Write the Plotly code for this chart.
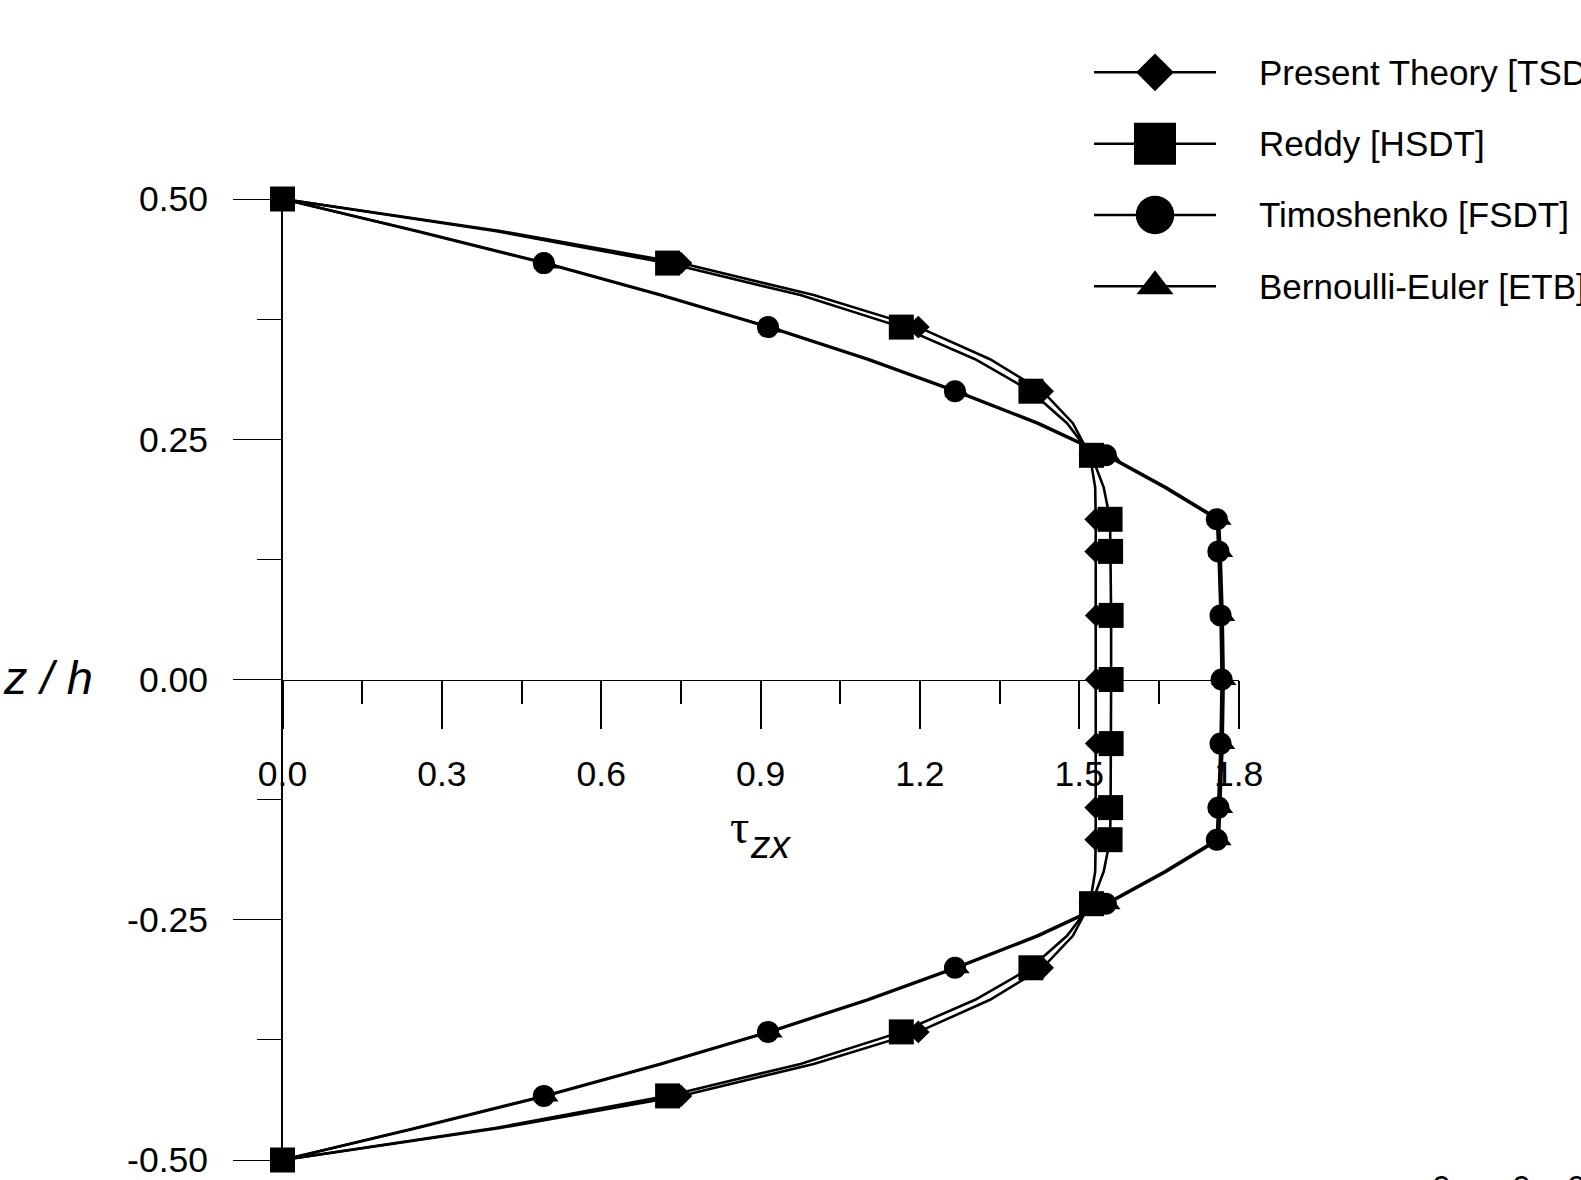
import plotly.graph_objects as go

# ---------------- data ----------------
z_levels = [0.5, 0.4667, 0.4333, 0.4, 0.3667, 0.3333, 0.3, 0.2667, 0.2333, 0.2,
            0.1667, 0.1333, 0.0667, 0.0, -0.0667, -0.1333, -0.1667, -0.2, -0.2333,
            -0.2667, -0.3, -0.3333, -0.3667, -0.4, -0.4333, -0.4667, -0.5]
marker_on = [1, 0, 1, 0, 1, 0, 1, 0, 1, 0, 1, 1, 1, 1, 1, 1, 1, 0, 1, 0, 1, 0, 1, 0, 1, 0, 1]

present_tsdt = [0.0, 0.410, 0.750, 1.000, 1.197, 1.332, 1.431, 1.488, 1.520, 1.530,
                1.531, 1.531, 1.532, 1.532, 1.532, 1.531, 1.531, 1.530, 1.520,
                1.488, 1.431, 1.332, 1.197, 1.000, 0.750, 0.410, 0.0]
reddy_hsdt = [0.0, 0.400, 0.725, 0.975, 1.165, 1.304, 1.409, 1.477, 1.523, 1.546,
              1.558, 1.559, 1.560, 1.560, 1.560, 1.559, 1.558, 1.546, 1.523,
              1.477, 1.409, 1.304, 1.165, 0.975, 0.725, 0.400, 0.0]
timoshenko_fsdt = [0.0, 0.250, 0.492, 0.710, 0.914, 1.100, 1.266, 1.420, 1.550, 1.660,
                   1.759, 1.762, 1.766, 1.768, 1.766, 1.762, 1.759, 1.660, 1.550,
                   1.420, 1.266, 1.100, 0.914, 0.710, 0.492, 0.250, 0.0]
bernoulli_etb = [0.0, 0.254, 0.496, 0.714, 0.918, 1.104, 1.270, 1.424, 1.554, 1.664,
                 1.763, 1.766, 1.770, 1.772, 1.770, 1.766, 1.763, 1.664, 1.554,
                 1.424, 1.270, 1.104, 0.918, 0.714, 0.496, 0.254, 0.0]

legend_labels = ["Present Theory [TSDT]", "Reddy [HSDT]", "Timoshenko [FSDT]",
                 "Bernoulli-Euler [ETB]"]
x_tick_vals = [0.0, 0.3, 0.6, 0.9, 1.2, 1.5, 1.8]
x_tick_text = ["0.0", "0.3", "0.6", "0.9", "1.2", "1.5", "1.8"]
y_tick_vals = [-0.5, -0.25, 0.0, 0.25, 0.5]
y_tick_text = ["-0.50", "-0.25", "0.00", "0.25", "0.50"]
x_title_symbol = "τ"
x_title_sub = "zx"
y_title = "z / h"

# ---------------- layout helpers ----------------
W, H = 1581, 1180
FONT = "Liberation Sans, Arial, sans-serif"


def fx(p):
    return p / W


def fy(p):
    return 1 - p / H


# (values, symbol, plot marker size, legend marker size, legend row)
series = [
    (bernoulli_etb, "triangle-up", 22, 32, 3),
    (timoshenko_fsdt, "circle", 22, 38.5, 2),
    (present_tsdt, "diamond", 17.5, 29, 0),
    (reddy_hsdt, "square", 25, 42, 1),
]

fig = go.Figure()

for vals, sym, ms, lms, row in series:
    fig.add_trace(go.Scatter(
        x=vals, y=z_levels, mode="lines+markers",
        line=dict(color="black", width=2.6),
        marker=dict(symbol=sym, color="black", opacity=1,
                    size=[ms if m else 0 for m in marker_on],
                    line=dict(width=0)),
        cliponaxis=False, showlegend=False, hoverinfo="skip",
        name=legend_labels[row],
    ))

# custom legend samples (own small invisible axes)
for vals, sym, ms, lms, row in series:
    fig.add_trace(go.Scatter(
        x=[0, 0.5, 1], y=[row, row, row], mode="lines+markers",
        xaxis="x2", yaxis="y2",
        line=dict(color="black", width=2.5),
        marker=dict(symbol=sym, color="black", opacity=1, size=[0, lms, 0],
                    line=dict(width=0)),
        cliponaxis=False, showlegend=False, hoverinfo="skip",
    ))

annotations = []
for i, lab in enumerate(legend_labels):
    annotations.append(dict(x=fx(1257), y=i, xref="paper", yref="y2", text=lab,
                            xanchor="left", yanchor="middle", showarrow=False,
                            font=dict(family=FONT, size=35, color="black")))

annotations.append(dict(x=fx(48), y=fy(677), xref="paper", yref="paper",
                        text="<i>" + y_title + "</i>", xanchor="center", yanchor="middle",
                        showarrow=False, font=dict(family=FONT, size=47, color="black")))
annotations.append(dict(x=fx(739), y=fy(826), xref="paper", yref="paper",
                        text=x_title_symbol, xanchor="center", yanchor="middle",
                        showarrow=False,
                        font=dict(family="Liberation Serif, serif", size=48, color="black")))
annotations.append(dict(x=fx(771), y=fy(844), xref="paper", yref="paper",
                        text="<i>" + x_title_sub + "</i>", xanchor="center", yanchor="middle",
                        showarrow=False, font=dict(family=FONT, size=39, color="black")))
for xp in [1441, 1521, 1576]:
    annotations.append(dict(x=fx(xp), y=fy(1166), xref="paper", yref="paper", text="0",
                            xanchor="center", yanchor="top", showarrow=False,
                            font=dict(family=FONT, size=34, color="black")))

fig.update_layout(
    width=W, height=H, autosize=False,
    margin=dict(l=0, r=0, t=0, b=0, pad=0, autoexpand=False),
    paper_bgcolor="white", plot_bgcolor="rgba(0,0,0,0)",
    showlegend=False,
    annotations=annotations,
    xaxis=dict(
        domain=[fx(282.5), fx(1238.6)], range=[0, 1.8],
        anchor="free", position=fy(679.5), automargin=False,
        showline=True, linecolor="black", linewidth=1.4,
        showgrid=False, zeroline=False,
        ticks="outside", ticklen=48, tickwidth=2, tickcolor="black",
        tickvals=x_tick_vals, ticktext=x_tick_text,
        tickfont=dict(family=FONT, size=35.5, color="black"),
        ticklabelstandoff=15, ticklabeloverflow="allow",
        minor=dict(dtick=0.15, tick0=0, ticks="outside", ticklen=23, tickwidth=2,
                   tickcolor="black", showgrid=False),
        layer="below traces",
    ),
    yaxis=dict(
        domain=[fy(1160), fy(199)], range=[-0.5, 0.5],
        anchor="x", automargin=False,
        showline=True, linecolor="black", linewidth=1.8,
        showgrid=False, zeroline=False,
        ticks="outside", ticklen=47.5, tickwidth=1.3, tickcolor="black",
        tickvals=y_tick_vals, ticktext=y_tick_text,
        tickfont=dict(family=FONT, size=35.5, color="black"),
        ticklabelstandoff=18, ticklabeloverflow="allow",
        minor=dict(dtick=0.125, tick0=0, ticks="outside", ticklen=23.5, tickwidth=1.3,
                   tickcolor="black", showgrid=False),
        layer="below traces",
    ),
    xaxis2=dict(domain=[fx(1094), fx(1216)], range=[0, 1], anchor="y2", visible=False,
                automargin=False),
    yaxis2=dict(domain=[fy(322), fy(36.6)], range=[3.5, -0.5], anchor="x2", visible=False,
                automargin=False),
)

fig.write_html("out.html", config={"displayModeBar": False},
               post_script="document.body.style.margin='0px';")
